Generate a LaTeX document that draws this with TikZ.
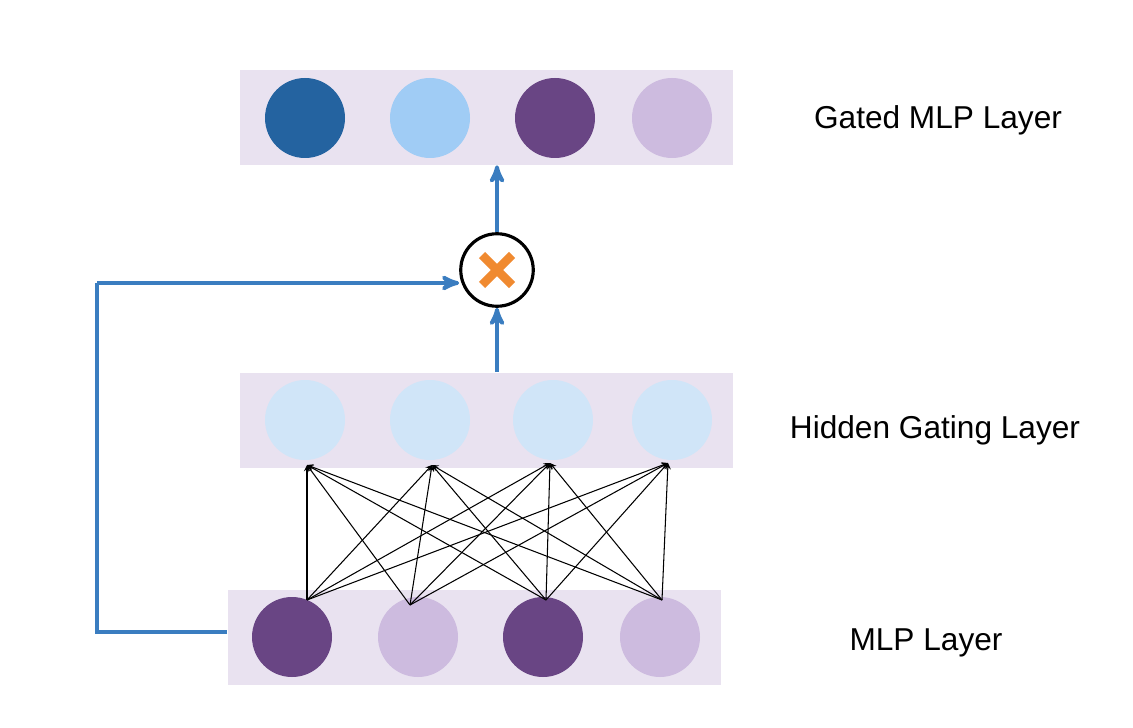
\documentclass[tikz,border=0pt]{standalone}
\usepackage{fontspec}
\setmainfont{Liberation Sans}
\usetikzlibrary{arrows}
\definecolor{bandcol}{HTML}{E9E2F0}
\definecolor{darkblue}{HTML}{2463A0}
\definecolor{lightblue}{HTML}{A0CCF5}
\definecolor{darkpurple}{HTML}{694584}
\definecolor{lightpurple}{HTML}{CDBBDF}
\definecolor{paleblue}{HTML}{D0E5F8}
\definecolor{linkblue}{HTML}{3A7DC0}
\definecolor{crosscol}{HTML}{F08A30}
\tikzstyle{band} = [rectangle, fill=bandcol, minimum width=9.86cm, minimum height=1.9cm, inner sep=0pt]
\tikzstyle{unit} = [circle, minimum size=1.6cm, inner sep=0pt]
\tikzstyle{blue arrow} = [line width=2.2pt, draw=linkblue, ->, >=stealth']
\tikzstyle{thin arrow} = [semithick, ->, >=stealth]
\tikzstyle{label} = [font=\fontsize{18}{21}\selectfont]
\tikzstyle{cross} = [line width=5pt, draw=crosscol]

\begin{document}
\begin{tikzpicture}
\useasboundingbox (0,0) rectangle (22.66,14.54);

% gated layer
\node[band] (gated) at (9.73,12.19) {};
\node[unit, fill=darkblue] (g1) at (6.10,12.18) {};
\node[unit, fill=lightblue] (g2) at (8.60,12.18) {};
\node[unit, fill=darkpurple] (g3) at (11.10,12.18) {};
\node[unit, fill=lightpurple] (g4) at (13.44,12.18) {};
\node[label] (gatedlabel) at (18.76,12.14) {Gated MLP Layer};

% multiply
\node[circle, draw, line width=1.8pt, minimum size=1.45cm, inner sep=0pt] (mult) at (9.94,9.14) {};
\draw [cross] ([shift={(-0.3,-0.3)}]mult.center) -- ([shift={(0.3,0.3)}]mult.center);
\draw [cross] ([shift={(-0.3,0.3)}]mult.center) -- ([shift={(0.3,-0.3)}]mult.center);

% hidden layer
\node[band] (hidden) at (9.73,6.14) {};
\node[unit, fill=paleblue] (h1) at (6.10,6.14) {};
\node[unit, fill=paleblue] (h2) at (8.60,6.14) {};
\node[unit, fill=paleblue] (h3) at (11.06,6.14) {};
\node[unit, fill=paleblue] (h4) at (13.44,6.14) {};
\node[label] (hiddenlabel) at (18.70,5.94) {Hidden Gating Layer};

% mlp layer
\node[band] (mlp) at (9.48,1.79) {};
\node[unit, fill=darkpurple] (m1) at (5.84,1.80) {};
\node[unit, fill=lightpurple] (m2) at (8.36,1.80) {};
\node[unit, fill=darkpurple] (m3) at (10.86,1.80) {};
\node[unit, fill=lightpurple] (m4) at (13.20,1.80) {};
\node[label] (mlplabel) at (18.52,1.68) {MLP Layer};

\coordinate (b1) at (6.14,2.54);
\coordinate (b2) at (8.20,2.44);
\coordinate (b3) at (10.92,2.54);
\coordinate (b4) at (13.24,2.54);
\coordinate (t1) at (6.14,5.24);
\coordinate (t2) at (8.64,5.24);
\coordinate (t3) at (11.00,5.28);
\coordinate (t4) at (13.36,5.28);
\foreach \i in {1,...,4}
  \foreach \j in {1,...,4}
    \draw [thin arrow] (b\i) -- (t\j);

% blue links
\coordinate (corner_b) at (1.94,1.90);
\coordinate (corner_t) at (1.94,8.88);
\draw [blue arrow, line join=miter, -] (mlp.west |- corner_b) -- (corner_b) -- (corner_t);
\draw [blue arrow] (corner_t) -- (mult.west |- corner_t);
\draw [blue arrow] (hidden.north -| mult) -- (mult.south);
\draw [blue arrow] (mult.north) -- (gated.south -| mult);

\end{tikzpicture}
\end{document}
